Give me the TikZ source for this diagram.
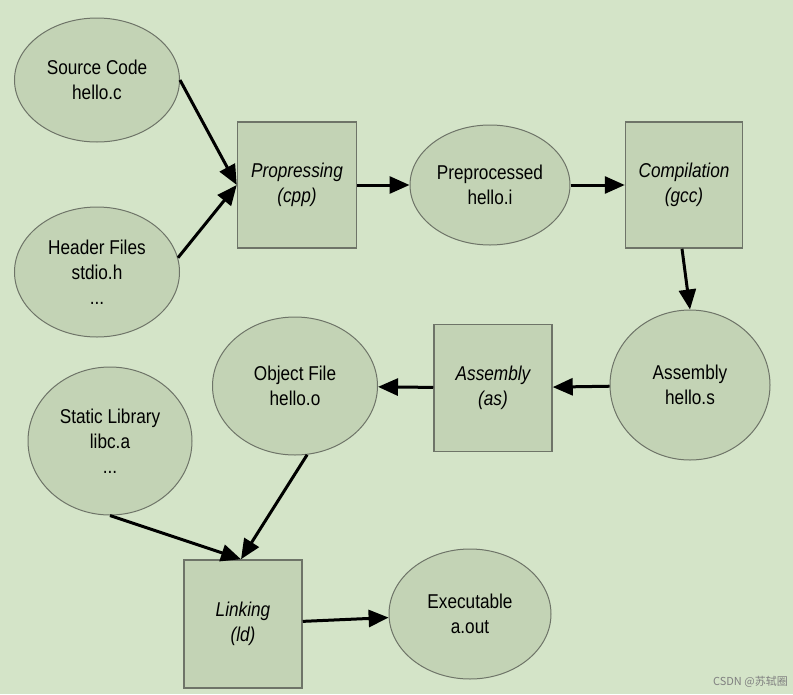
\documentclass[tikz,border=0pt]{standalone}
\usepackage{fontspec}
\setmainfont{Liberation Sans}[FakeStretch=0.86]
\newfontfamily\cjk{Noto Sans CJK SC}
\usetikzlibrary{arrows.meta,shapes.geometric}
\definecolor{bg}{HTML}{D4E4C8}
\definecolor{fl}{HTML}{C3D3B5}
\definecolor{bd}{HTML}{6E7468}
\begin{document}
\begin{tikzpicture}[x=1pt,y=-1pt,
 ell/.style={ellipse,draw=bd,fill=fl,line width=1pt,align=center,font=\fontsize{20}{25}\selectfont,inner sep=0pt},
 box/.style={rectangle,draw=bd,fill=fl,line width=1.5pt,align=center,font=\fontsize{20}{25}\selectfont\itshape,minimum width=119pt,minimum height=126pt},
 arr/.style={line width=3pt,-{Triangle[length=20pt,width=17pt]}}]
\fill[bg] (0,0) rectangle (793,694);
\useasboundingbox (0,0) rectangle (793,694);
\node[ell,minimum width=165pt,minimum height=124pt] (src) at (97,80) {Source Code\\hello.c};
\node[ell,minimum width=165pt,minimum height=130pt] (hdr) at (97,272) {Header Files\\stdio.h\\...};
\node[box] (cpp) at (297,185) {Propressing\\(cpp)};
\node[ell,minimum width=160pt,minimum height=120pt] (pre) at (490,185) {Preprocessed\\hello.i};
\node[box,minimum width=117pt] (gcc) at (684,185) {Compilation\\(gcc)};
\node[ell,minimum width=160pt,minimum height=150pt] (asm) at (690,385) {Assembly\\hello.s};
\node[box,minimum width=118pt,minimum height=127pt] (as) at (493,388) {Assembly\\(as)};
\node[ell,minimum width=165pt,minimum height=138pt] (obj) at (295,386) {Object File\\hello.o};
\node[ell,minimum width=164pt,minimum height=148pt] (lib) at (110,441) {Static Library\\libc.a\\...};
\node[box,minimum width=118pt,minimum height=128pt] (ld) at (243,624) {Linking\\(ld)};
\node[ell,minimum width=162pt,minimum height=130pt] (exe) at (470,614) {Executable\\a.out};
\node[anchor=south east,text=gray,font=\cjk\fontsize{11}{13}\selectfont,inner sep=2pt] (wm) at (790,690) {CSDN @苏轼圈};
\coordinate (h1) at (hdr.10);
\coordinate (g1) at ([xshift=-2pt]gcc.south);
\coordinate (o1) at (obj.-80);
\coordinate (l1) at ([xshift=-2pt]ld.north);
\draw[arr] (src.east) -- (cpp.west);
\draw[arr] (h1) -- (cpp.west);
\draw[arr] (cpp) -- (pre);
\draw[arr] (pre) -- (gcc);
\draw[arr] (g1) -- (asm.north);
\draw[arr] (asm) -- (as);
\draw[arr] (as) -- (obj);
\draw[arr] (o1) -- (l1);
\draw[arr] (lib.south) -- (l1);
\draw[arr] (ld) -- (exe);
\end{tikzpicture}
\end{document}
